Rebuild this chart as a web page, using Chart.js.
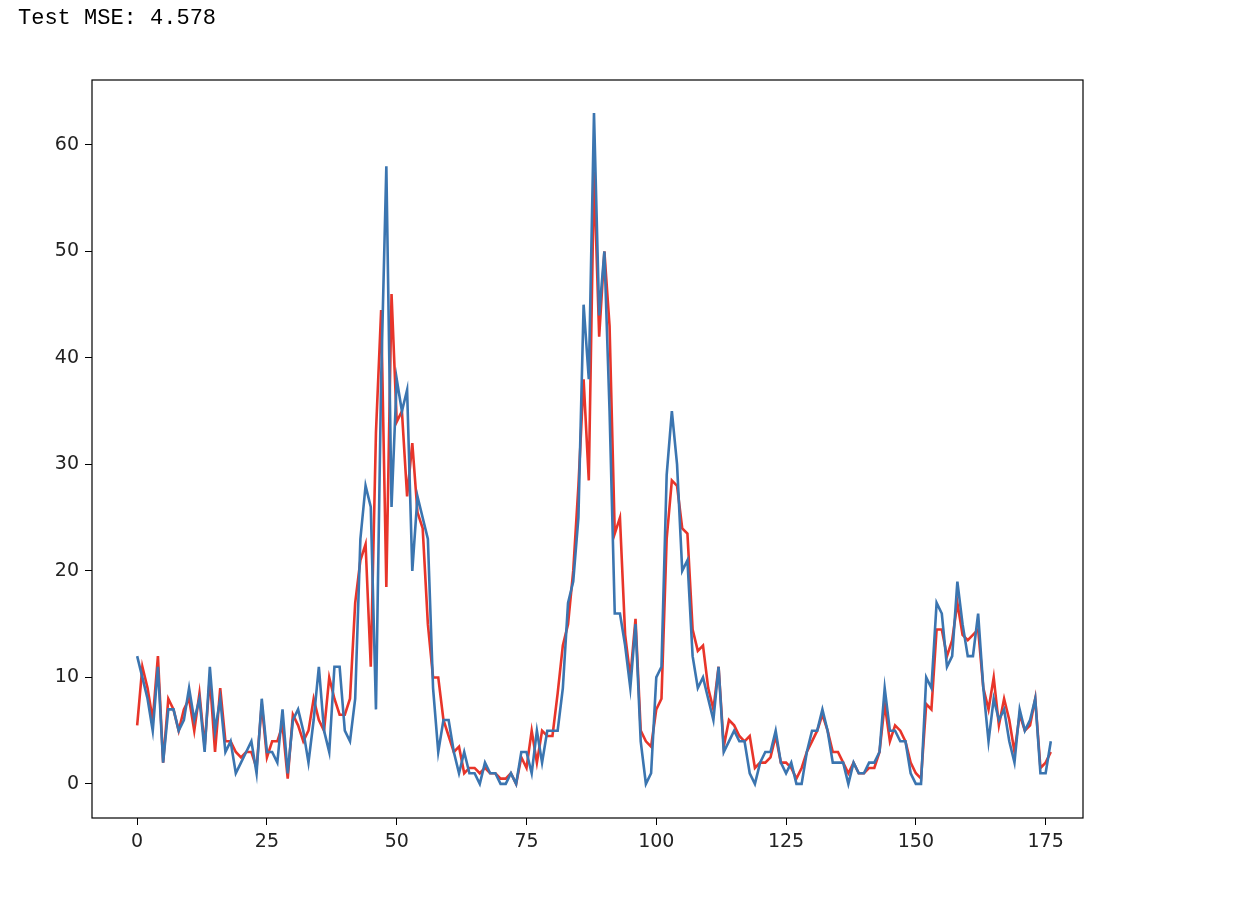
<!DOCTYPE html>
<html><head><meta charset="utf-8">
<script src="https://cdn.jsdelivr.net/npm/chart.js@4/dist/chart.umd.min.js"></script>
<style>body{margin:0;background:#fff}#t{position:absolute;left:18px;top:6px;font:22px "Liberation Mono","DejaVu Sans Mono",monospace;color:#000}#w{position:absolute;left:0;top:0;width:1244px;height:914px}</style>
</head><body>
<div id="w"><canvas id="c"></canvas></div>
<div id="t">Test MSE: 4.578</div>
<script>
const actual=[12,10,8,5,11,2,7,7,5,6,9,6,8,3,11,5,8,3,4,1,2,3,4,1,8,3,3,2,7,1,6,7,5,2,6,11,5,3,11,11,5,4,8,23,28,26,7,38,58,26,38,35,37,20,27,25,23,9,3,6,6,3,1,3,1,1,0,2,1,1,0,0,1,0,3,3,1,5,2,5,5,5,9,17,19,25,45,38,63,44,50,35,16,16,13,9,15,4,0,1,10,11,29,35,30,20,21,12,9,10,8,6,11,3,4,5,4,4,1,0,2,3,3,5,2,1,2,0,0,3,5,5,7,5,2,2,2,0,2,1,1,2,2,3,9,5,5,4,4,1,0,0,10,9,17,16,11,12,19,15,12,12,16,9,4,8,6,7,4,2,7,5,6,8,1,1,4];
const predicted=[5.5,11,9,6,12,2,8,7,5,7,8,5,8.5,3.5,10,3,9,4,4,3,2.5,3,3,1.5,7.5,2.5,4,4,5.5,0.5,6.5,5.5,4,5,8,6,5,10,8,6.5,6.5,8,17,21,22.5,11,33,44.5,18.5,46,34,35,27,32,25.5,24,15,10,10,6,4.5,3,3.5,1,1.5,1.5,1,1.5,1,1,0.5,0.5,1,0,2.5,1.5,5,2,5,4.5,4.5,8.5,13,15,20,28,38,28.5,57.5,42,50,43,23.5,25,14,10,15.5,5,4,3.5,7,8,23,28.5,28,24,23.5,14.5,12.5,13,9,7,11,3.5,6,5.5,4.5,4,4.5,1.5,2,2,2.5,4.5,2,2,1.5,0.5,1.5,3,4,5,6.5,5,3,3,2,1,2,1,1,1.5,1.5,3,7.5,4,5.5,5,4,2,1,0.5,7.5,7,14.5,14.5,12,13.5,17,14,13.5,14,14.5,9,7,10,5.5,8,6,3,6.5,5,5.5,8,1.5,2,3];
const xTicks=[0,25,50,75,100,125,150,175];
const yTicks=[0,10,20,30,40,50,60];
const pts=a=>a.map((v,i)=>({x:i,y:v}));
const frame={id:'frame',afterDraw(c){const a=c.chartArea,x=c.ctx;x.save();x.strokeStyle='#000';x.lineWidth=1.2;x.strokeRect(a.left,a.top,a.right-a.left,a.bottom-a.top);x.restore();}};
const tickFont={family:'"DejaVu Sans"',size:19};
new Chart(document.getElementById('c'),{type:'line',
data:{datasets:[
{data:pts(actual),borderColor:'#3b75b0',borderWidth:2.6,pointRadius:0,tension:0},
{data:pts(predicted),borderColor:'#e8352a',borderWidth:2.6,pointRadius:0,tension:0}]},
options:{responsive:true,maintainAspectRatio:false,animation:false,
layout:{padding:{top:80,right:161,left:0,bottom:0}},
plugins:{legend:{display:false},tooltip:{enabled:false}},
scales:{
x:{type:'linear',min:-8.7,max:182.2,afterFit:s=>{s.height=96},
afterBuildTicks:s=>{s.ticks=xTicks.map(v=>({value:v}))},
grid:{drawOnChartArea:false,tickLength:7,color:'#000'},border:{display:false},
ticks:{font:tickFont,color:'#222',padding:6,maxRotation:0}},
y:{min:-3.2,max:66.1,afterFit:s=>{s.width=92},
afterBuildTicks:s=>{s.ticks=yTicks.map(v=>({value:v}))},
grid:{drawOnChartArea:false,tickLength:7,color:'#000'},border:{display:false},
ticks:{font:tickFont,color:'#222',padding:6}}}},
plugins:[frame]});
</script></body></html>
